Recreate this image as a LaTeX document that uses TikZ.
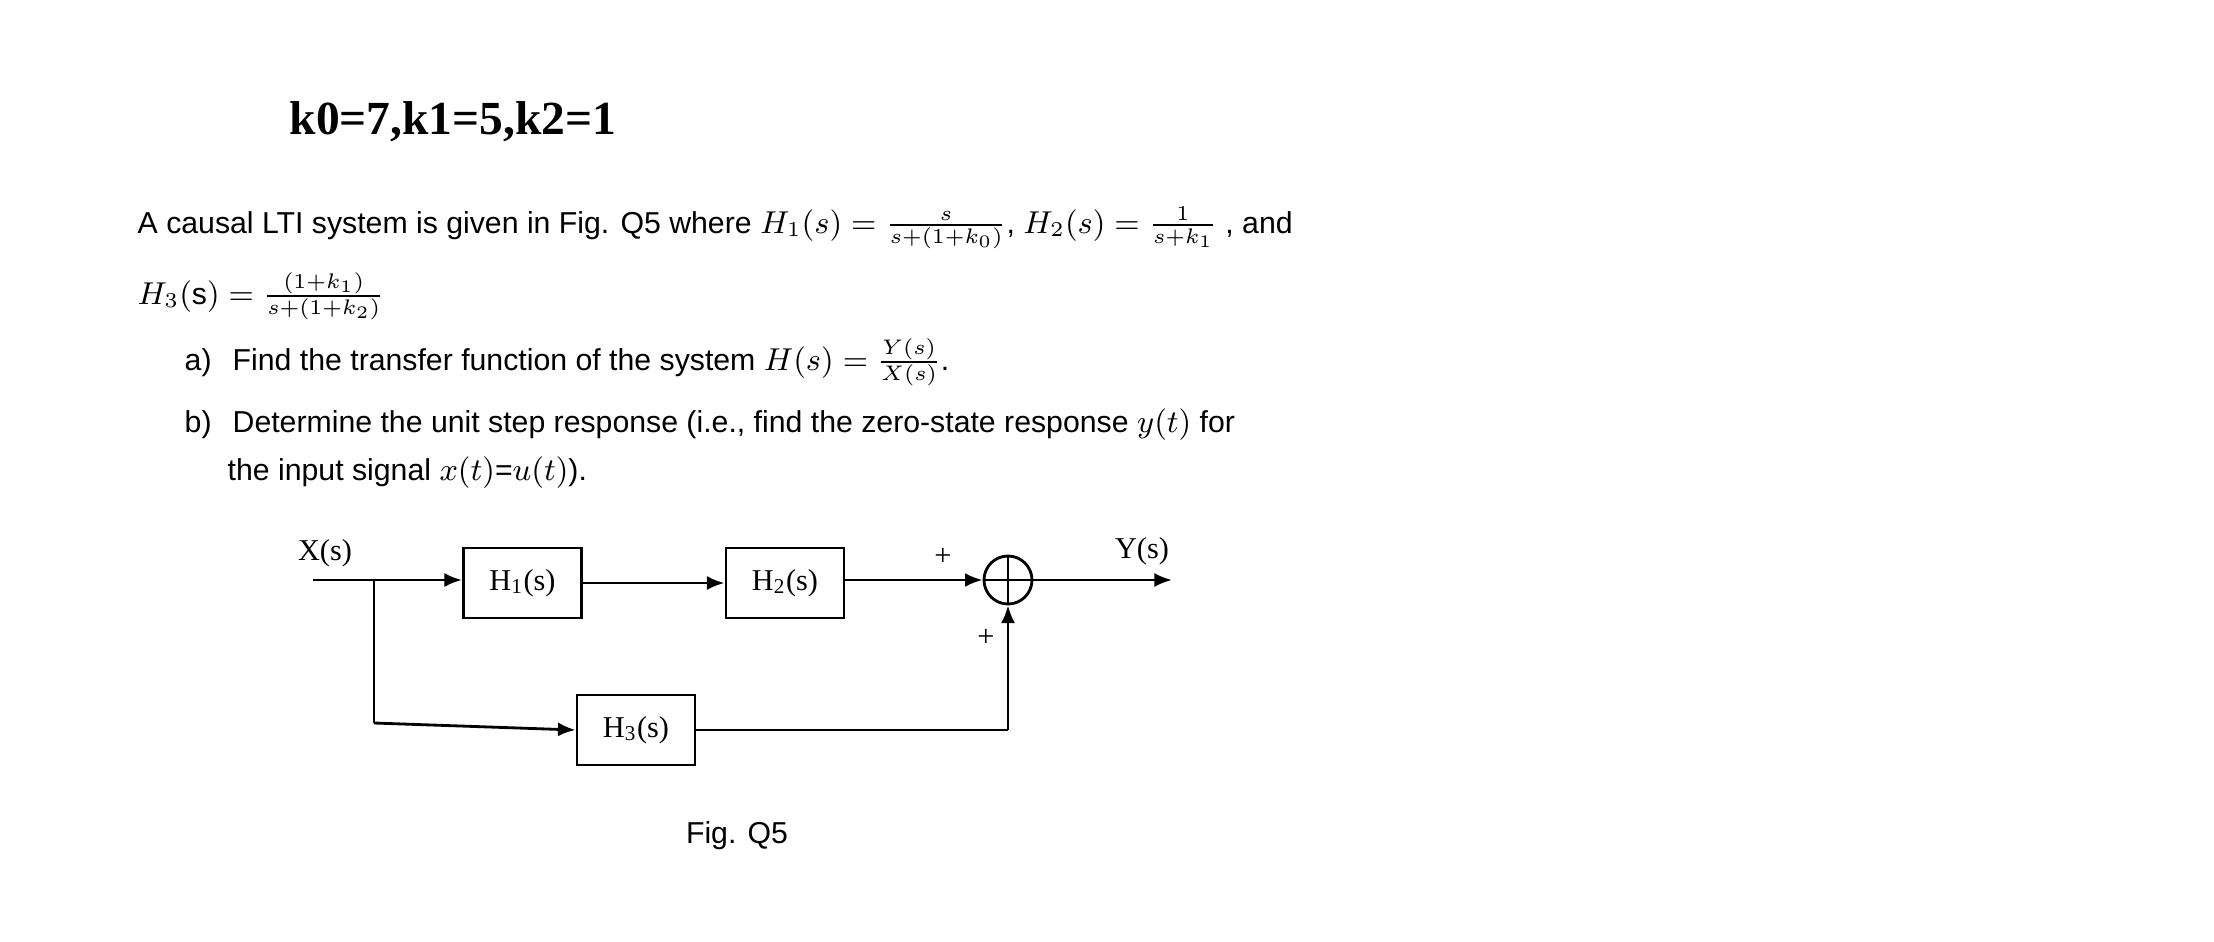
\documentclass[tikz,border=0pt]{standalone}
\usepackage{amsmath}
\usepackage{fontspec}
\setmainfont{Liberation Sans}
\newfontfamily\tnr{Liberation Serif}
\usetikzlibrary{arrows.meta}

\begin{document}
\begin{tikzpicture}[x=0.01cm,y=-0.01cm,
  txt/.style={anchor=base west,inner sep=0pt,font=\fontsize{8.6}{10}\selectfont},
  blk/.style={draw,line width=0.8pt,minimum width=1.18cm,minimum height=0.70cm,inner sep=0pt,
    font=\tnr\fontsize{8.6}{10}\selectfont},
  sig/.style={line width=0.8pt,-{Latex[length=5pt,width=4pt]}},
  lbl/.style={font=\tnr\fontsize{8.6}{10}\selectfont,inner sep=0pt}]

\useasboundingbox (0,0) rectangle (2214,942);

% Problem text
\node[anchor=base west,inner sep=0pt,font=\tnr\bfseries\fontsize{13.5}{16}\selectfont]
  (title) at (289,134) {k0=7,k1=5,k2=1};
\node[txt] (l1) at (137,233) {A causal LTI system is given in Fig. Q5 where
  $H_1(s)=\frac{s}{s+(1+k_0)}$, $H_2(s)=\frac{1}{s+k_1}$ , and};
\node[txt] (l2) at (137,304) {$H_3(\mathrm{s})=\frac{(1+k_1)}{s+(1+k_2)}$};
\node[txt] (l3) at (184,370) {a)\hspace{6pt}Find the transfer function of the system $H(s)=\frac{Y(s)}{X(s)}$.};
\node[txt] (l4) at (184,432) {b)\hspace{6pt}Determine the unit step response (i.e., find the zero-state response $y(t)$ for};
\node[txt] (l5) at (227,480) {the input signal $x(t)$=$u(t)$).};

% Block diagram
\node[blk] (h1) at (522.5,583) {H\textsubscript{1}(s)};
\node[blk] (h2) at (785,583) {H\textsubscript{2}(s)};
\node[blk] (h3) at (636,730) {H\textsubscript{3}(s)};
\node[draw,circle,line width=0.8pt,minimum size=0.48cm,inner sep=0pt] (sum) at (1008,580) {};
\draw[line width=0.8pt] (sum.north) -- (sum.south) (sum.west) -- (sum.east);

\coordinate (in) at (313,580);
\coordinate (br) at (374,580);
\coordinate (brd) at (374,723);
\coordinate (out) at (1172,580);
\coordinate (cr) at (1008,730);

\draw[sig] (in) -- (h1.west |- in);
\draw[line width=0.8pt] (br) -- (brd);
\draw[sig] (brd) -- (h3.west);
\draw[sig] (h1) -- (h2);
\draw[sig] (h2.east |- sum) -- (sum.west);
\draw[sig] (sum.east) -- (out);
\draw[line width=0.8pt] (h3.east) -- (cr);
\draw[sig] (cr) -- (sum.south);

\node[lbl] (xs) at (325,553) {X(s)};
\node[lbl] (ys) at (1142,551) {Y(s)};
\node[lbl] (p1) at (943,557) {+};
\node[lbl] (p2) at (986,638) {+};
\node[font=\fontsize{8.6}{10}\selectfont,inner sep=0pt] (fig) at (737,836) {Fig. Q5};
\end{tikzpicture}
\end{document}
